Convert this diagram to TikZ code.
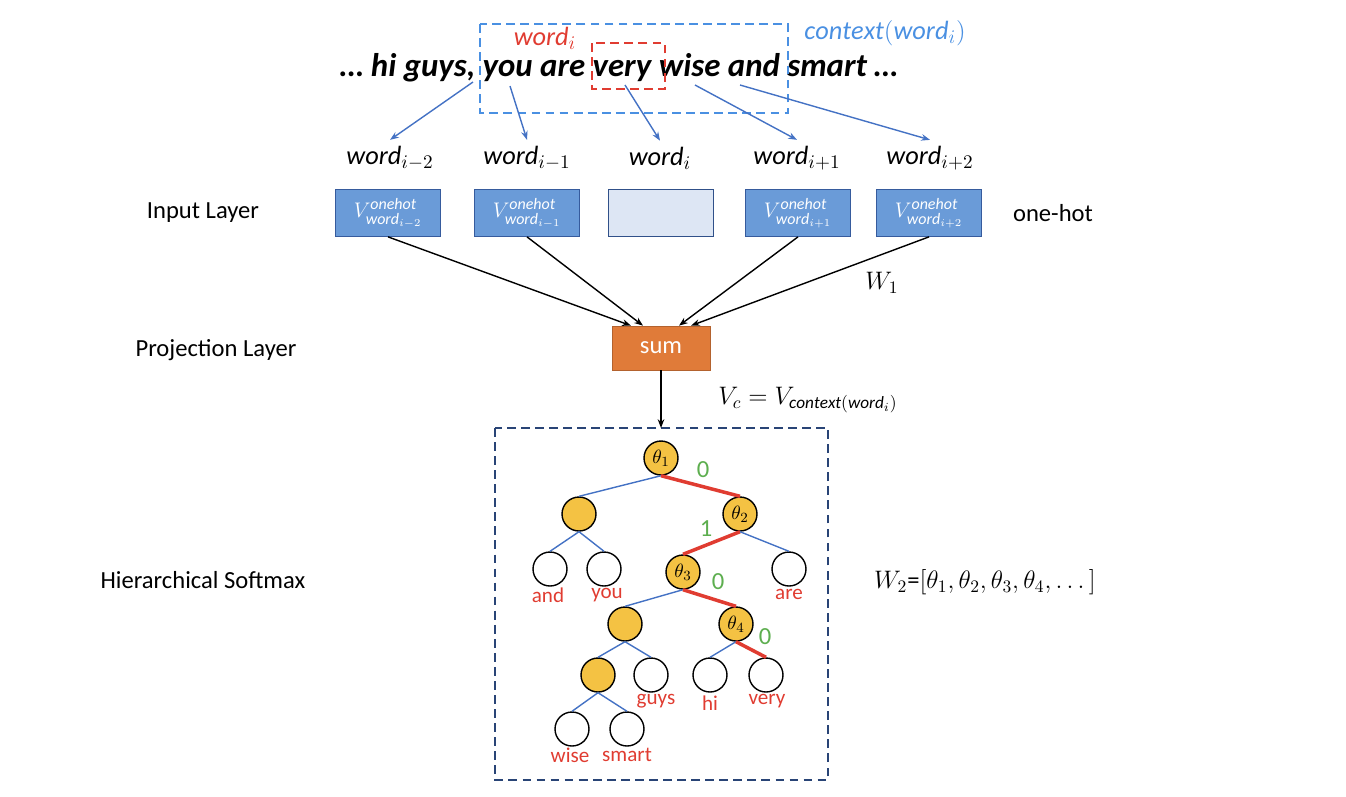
\documentclass[tikz,border=0pt]{standalone}
\usepackage{amsmath}
\usepackage{fontspec}
\setmainfont{Carlito}
\usetikzlibrary{arrows.meta}
\definecolor{myblue}{HTML}{4472C4}
\definecolor{ctxblue}{HTML}{4A90E2}
\definecolor{boxblue}{HTML}{6A9BD8}
\definecolor{sumorange}{HTML}{E07B39}
\definecolor{treeyel}{HTML}{F4C243}
\definecolor{wred}{HTML}{E03C31}
\definecolor{zgreen}{HTML}{5DAE4F}
\begin{document}
\begin{tikzpicture}[x=0.02cm,y=-0.02cm,
  lbl/.style={font=\fontsize{14}{16}\selectfont},
  wlbl/.style={font=\fontsize{15}{17}\selectfont},
  inbox/.style={draw=myblue!80!black,fill=boxblue,minimum width=105*0.569pt,minimum height=47*0.569pt,inner sep=0pt,font=\fontsize{13}{14}\selectfont},
  blu/.style={-{Stealth[length=5pt]},myblue,thick},
  blk/.style={-{Stealth[length=5pt]},black,thick},
  inner/.style={circle,draw,thick,fill=treeyel,minimum size=34*0.569pt,inner sep=0pt,font=\fontsize{11}{12}\selectfont},
  leaf/.style={circle,draw,thick,fill=white,minimum size=34*0.569pt,inner sep=0pt},
  tl/.style={wred,font=\fontsize{12}{13}\selectfont},
  te/.style={myblue,thick},
  re/.style={wred,line width=2pt},
  zo/.style={zgreen,font=\fontsize{14}{15}\selectfont}]
\useasboundingbox (0,0) rectangle (1346,796);
% sentence
\node (sent) at (619,68) {\fontsize{18.7}{21}\selectfont\bfseries\itshape \dots\ hi guys, you are very wise and smart \dots};
\draw[ctxblue,thick,dash pattern=on 5pt off 3pt] (480,24) rectangle (788,113);
\draw[wred,thick,dash pattern=on 5pt off 3pt] (592,43) rectangle (665,89);
\node[wred,font=\fontsize{15}{16}\selectfont] (wi) at (545,38) {$\mathit{word}_i$};
\node[ctxblue,font=\fontsize{15}{16}\selectfont] (ctx) at (885,33) {$\mathit{context}(\mathit{word}_i)$};
\coordinate (s1) at (473,82); \coordinate (s2) at (510,86);
\coordinate (s3) at (625,85); \coordinate (s4) at (695,85); \coordinate (s5) at (740,85);
% word labels
\node[wlbl] (w1) at (390,158) {$\mathit{word}_{i-2}$};
\node[wlbl] (w2) at (527,158) {$\mathit{word}_{i-1}$};
\node[wlbl] (w3) at (660,158) {$\mathit{word}_{i}$};
\node[wlbl] (w4) at (797,158) {$\mathit{word}_{i+1}$};
\node[wlbl] (w5) at (930,158) {$\mathit{word}_{i+2}$};
\draw[blu] (s1) -- (w1.north);
\draw[blu] (s2) -- (w2.north);
\draw[blu] (s3) -- (w3.north);
\draw[blu] (s4) -- (w4.north);
\draw[blu] (s5) -- (w5.north);
% input boxes
\node[inbox] (b1) at (388,213) {\color{white}$V^{\mathit{onehot}}_{\mathit{word}_{i-2}}$};
\node[inbox] (b2) at (527,213) {\color{white}$V^{\mathit{onehot}}_{\mathit{word}_{i-1}}$};
\node[inbox,fill=myblue!18,draw=myblue!70!black] (b3) at (661,213) {};
\node[inbox] (b4) at (798,213) {\color{white}$V^{\mathit{onehot}}_{\mathit{word}_{i+1}}$};
\node[inbox] (b5) at (929,213) {\color{white}$V^{\mathit{onehot}}_{\mathit{word}_{i+2}}$};
\node[lbl] (il) at (203,213) {Input Layer};
\node[lbl] (oh) at (1053,213) {one-hot};
% projection
\node[draw=sumorange!80!black,fill=sumorange,minimum width=98*0.569pt,minimum height=44*0.569pt,text=white,font=\fontsize{14}{16}\selectfont] (sum) at (661,348) {sum};
\node[lbl] (pl) at (216,350) {Projection Layer};
\draw[blk] (b1.south) -- ([xshift=-30*0.569pt]sum.north);
\draw[blk] (b2.south) -- ([xshift=-18*0.569pt]sum.north);
\draw[blk] (b4.south) -- ([xshift=18*0.569pt]sum.north);
\draw[blk] (b5.south) -- ([xshift=30*0.569pt]sum.north);
\node[lbl] (w1l) at (882,283) {$W_1$};
\node[lbl] (vc) at (808,400) {$V_c=V_{\mathit{context}(\mathit{word}_i)}$};
% tree box
\draw[myblue!60!black,thick,dash pattern=on 5pt off 3pt] (495,428) rectangle (828,780);
\coordinate (tt) at (661,428);
\draw[-{Stealth[length=5pt]},thick] (sum.south) -- (tt);
\node[lbl] (hs) at (203,580) {Hierarchical Softmax};
\node[lbl] (w2l) at (985,582) {$W_2$=$[\theta_1,\theta_2,\theta_3,\theta_4,\dots]$};
% tree
\node[inner] (t1) at (661,458) {$\theta_1$};
\node[inner] (n1) at (579,514) {};
\node[inner] (t2) at (740,514) {$\theta_2$};
\node[leaf] (and) at (550,569) {};
\node[leaf] (you) at (604,569) {};
\node[inner] (t3) at (683,572) {$\theta_3$};
\node[leaf] (are) at (789,569) {};
\node[inner] (n2) at (625,624) {};
\node[inner] (t4) at (736,624) {$\theta_4$};
\node[inner] (n3) at (598,675) {};
\node[leaf] (guys) at (651,675) {};
\node[leaf] (hi) at (710,675) {};
\node[leaf] (very) at (766,675) {};
\node[leaf] (wise) at (572,729) {};
\node[leaf] (smart) at (627,729) {};
\draw[te] (t1.south) -- (n1.north);
\draw[re] (t1.south) -- (t2.north);
\draw[te] (n1.south) -- (and.north);
\draw[te] (n1.south) -- (you.north);
\draw[re] (t2.south) -- (t3.north);
\draw[te] (t2.south) -- (are.north);
\draw[te] (t3.south) -- (n2.north);
\draw[re] (t3.south) -- (t4.north);
\draw[te] (n2.south) -- (n3.north);
\draw[te] (n2.south) -- (guys.north);
\draw[te] (t4.south) -- (hi.north);
\draw[re] (t4.south) -- (very.north);
\draw[te] (n3.south) -- (wise.north);
\draw[te] (n3.south) -- (smart.north);
\node[tl] at (548,595) {and};
\node[tl] at (607,595) {you};
\node[tl] at (789,594) {are};
\node[tl] at (656,701) {guys};
\node[tl] at (710,703) {hi};
\node[tl] at (767,701) {very};
\node[tl] at (570,755) {wise};
\node[tl] at (627,755) {smart};
\node[zo] at (703,470) {0};
\node[zo] at (706,529) {1};
\node[zo] at (718,582) {0};
\node[zo] at (765,637) {0};
\end{tikzpicture}
\end{document}
